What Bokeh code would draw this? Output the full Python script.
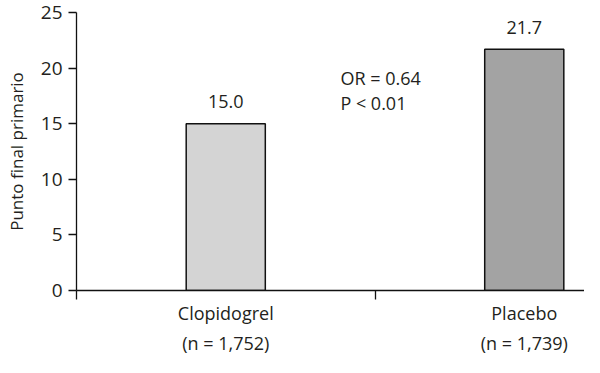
from bokeh.plotting import figure
from bokeh.models import Range1d, FixedTicker, Label, ColumnDataSource, LinearAxis
from bokeh.core.properties import value
from bokeh.embed import file_html
from bokeh.resources import INLINE

# ---- data ----
categories = ["Clopidogrel", "Placebo"]
sizes = ["(n = 1,752)", "(n = 1,739)"]
values = [15.0, 21.7]
y_ticks = [0, 5, 10, 15, 20, 25]
stat_lines = ["OR = 0.64", "P < 0.01"]

FONT = "Open Sans"
TXT = "#231f20"
LINE = "#111111"
FS = "18px"

xs = [1, 2]
src = ColumnDataSource(dict(
    x=xs, top=values,
    color=["#d4d4d4", "#a3a3a3"],
    label=[f"{v:.1f}" for v in values],
))

p = figure(width=584, height=357, x_range=Range1d(0.5, 2.2018), y_range=Range1d(0, 25),
           output_backend="svg", toolbar_location=None,
           min_border_left=76, min_border_right=0, min_border_top=12, min_border_bottom=60)
p.outline_line_color = None
p.xgrid.visible = False
p.ygrid.visible = False

p.vbar(x="x", top="top", width=0.265, source=src, fill_color="color",
       line_color=LINE, line_width=1.5)

p.text(x="x", y="top", text="label", source=src, y_offset=-22,
       text_align="center", text_baseline="middle",
       text_font=value(FONT), text_font_size=FS, text_color=TXT)

# x axis: the line, a tick at the left end and one in the middle
p.xaxis.ticker = FixedTicker(ticks=[0.5, 1.5])
p.xaxis.major_label_overrides = {0.5: "", 1.5: ""}
p.xaxis.major_label_text_font_size = "1px"
p.xaxis.major_label_standoff = 0
p.xaxis.major_tick_in = 0
p.xaxis.major_tick_out = 9
p.xaxis.minor_tick_line_color = None
p.xaxis.axis_line_width = 1.3
p.xaxis.major_tick_line_width = 1.3
p.xaxis.axis_line_color = LINE
p.xaxis.major_tick_line_color = LINE

# second axis underneath carrying the category labels
cat_axis = LinearAxis(ticker=FixedTicker(ticks=xs),
                      major_label_overrides={x: f"{c}\n{n}" for x, c, n in zip(xs, categories, sizes)},
                      axis_line_color=None, major_tick_line_color=None, minor_tick_line_color=None,
                      major_tick_in=0, major_tick_out=0, major_label_standoff=1,
                      major_label_text_font=FONT, major_label_text_font_size=FS,
                      major_label_text_line_height=1.25,
                      major_label_text_color=TXT, major_label_text_align="center")
p.add_layout(cat_axis, "below")

# y axis
p.yaxis.ticker = FixedTicker(ticks=y_ticks)
p.yaxis.major_tick_in = 0
p.yaxis.major_tick_out = 8
p.yaxis.minor_tick_line_color = None
p.yaxis.axis_line_width = 1.3
p.yaxis.major_tick_line_width = 1.3
p.yaxis.axis_line_color = LINE
p.yaxis.major_tick_line_color = LINE
p.yaxis.major_label_standoff = 6
p.yaxis.major_label_text_font = FONT
p.yaxis.major_label_text_font_size = "19px"
p.yaxis.major_label_text_color = TXT
p.yaxis.axis_label = "Punto final primario"
p.yaxis.axis_label_text_font = FONT
p.yaxis.axis_label_text_font_size = "17px"
p.yaxis.axis_label_text_font_style = "normal"
p.yaxis.axis_label_text_color = TXT
p.yaxis.axis_label_standoff = 10

# statistics text
for i, line in enumerate(stat_lines):
    p.add_layout(Label(x=1.384, y=0, y_offset=213 - 25 * i, text=line, text_align="left",
                       text_baseline="alphabetic", text_font=FONT, text_font_size=FS,
                       text_color=TXT))

open("out.html", "w").write(file_html(p, INLINE))
